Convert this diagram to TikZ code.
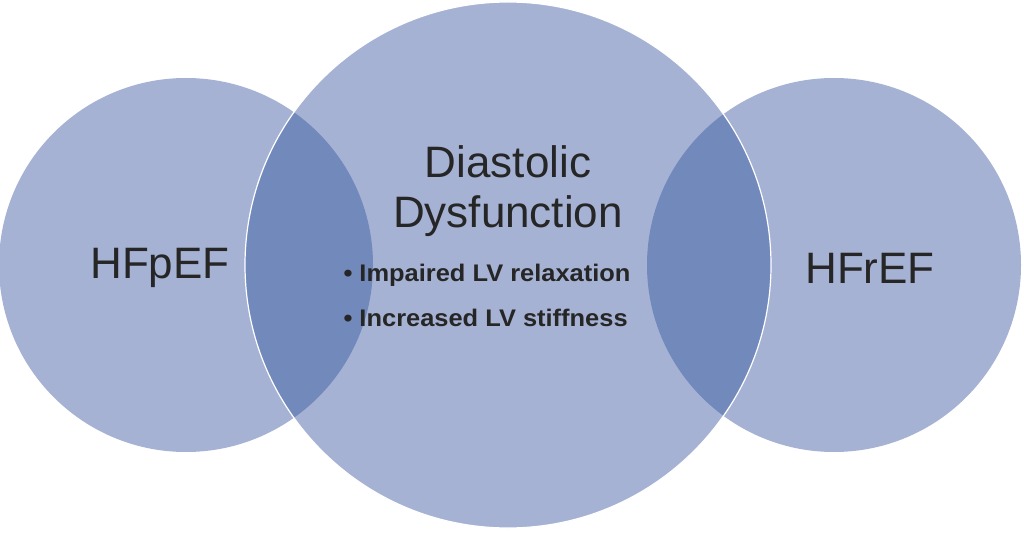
\documentclass[tikz,border=0pt]{standalone}
\usepackage{fontspec}
\setmainfont{Liberation Sans}
\definecolor{cfill}{HTML}{A6B2D4}
\definecolor{cdark}{HTML}{7289BC}
\begin{document}
\begin{tikzpicture}[x=1pt,y=1pt]
\tikzset{circ/.style={fill=cfill,draw=none}, big/.style={font=\fontsize{44}{50}\selectfont, text=black!85}, bul/.style={font=\bfseries\fontsize{24}{27}\selectfont, anchor=west, text=black!85}}
\fill[white] (0,0) rectangle (1024,533);
\useasboundingbox (0,0) rectangle (1024,533);
\coordinate (L) at (186,268);
\coordinate (M) at (508,268);
\coordinate (R) at (834,268);
\fill[cfill] (L) circle (187);
\fill[cfill] (R) circle (187);
\fill[cfill] (M) circle (263);
\begin{scope}
\clip (L) circle (187);
\fill[cdark] (M) circle (263);
\end{scope}
\begin{scope}
\clip (R) circle (187);
\fill[cdark] (M) circle (263);
\end{scope}
\draw[white, line width=1.2pt] (M) circle (263);
\node[big] (hp) at (160,265) {HFpEF};
\node[big] (hr) at (870,265) {HFrEF};
\node[big, align=center] (dd) at (508,342) {Diastolic\\Dysfunction};
\node[bul] (b1) at (340,258) {\scalebox{1.06}[1]{\textbullet\ Impaired LV relaxation}};
\node[bul] (b2) at (340,215) {\scalebox{1.06}[1]{\textbullet\ Increased LV stiffness}};
\end{tikzpicture}
\end{document}
